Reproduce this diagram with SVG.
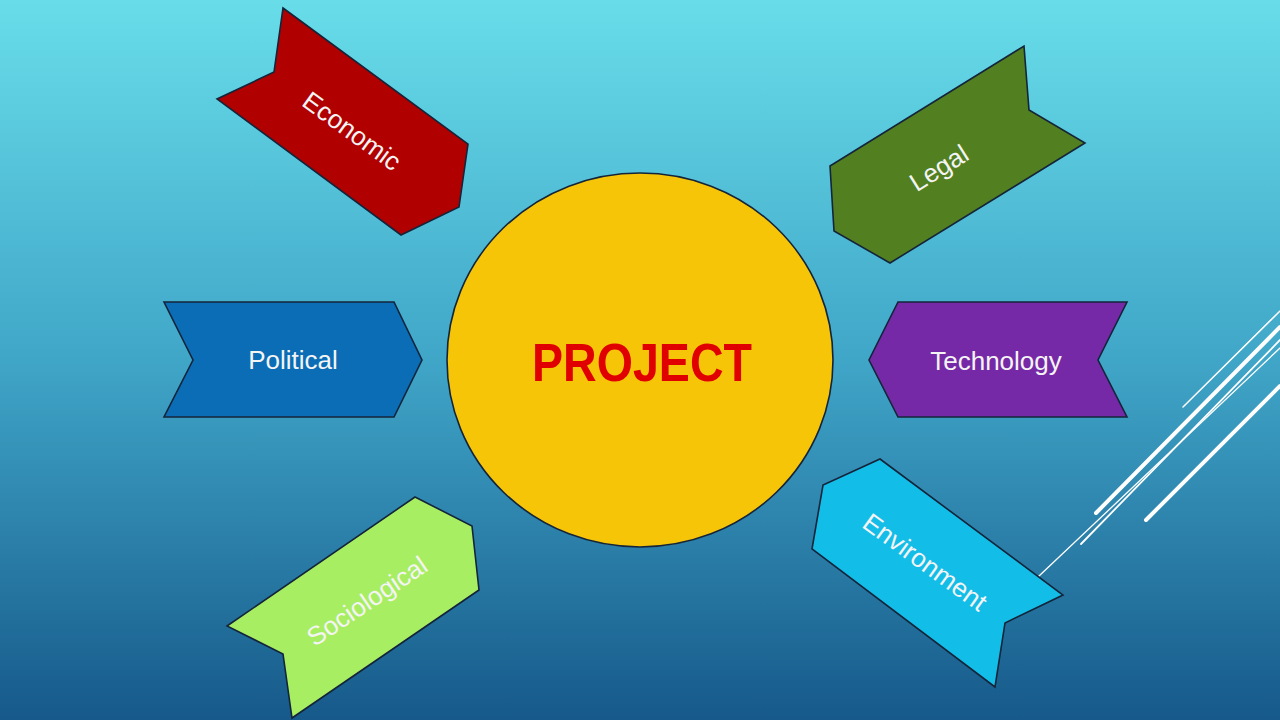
<svg xmlns="http://www.w3.org/2000/svg" width="1280" height="720" viewBox="0 0 1280 720">
  <defs>
    <linearGradient id="bg" x1="0" y1="0" x2="0" y2="1">
      <stop offset="0" stop-color="#68dde9"/>
      <stop offset="0.5" stop-color="#40a6c8"/>
      <stop offset="1" stop-color="#16598a"/>
    </linearGradient>
  </defs>
  <style>
    .shape { stroke: #14243a; stroke-width: 1.6; stroke-linejoin: miter; }
    .lbl { font-family: "Liberation Sans", Arial, sans-serif; font-size: 26px; fill: #f4f4f4; text-anchor: middle; }
    .deco { stroke: #ffffff; stroke-linecap: round; fill: none; }
  </style>
  <rect x="0" y="0" width="1280" height="720" fill="url(#bg)"/>

  <g id="decoration">
    <line class="deco" x1="1183" y1="407" x2="1280" y2="311" stroke-width="1.5"/>
    <line class="deco" x1="1096" y1="513" x2="1280" y2="327" stroke-width="4"/>
    <line class="deco" x1="1081" y1="544" x2="1280" y2="340" stroke-width="1.8"/>
    <line class="deco" x1="1039" y1="576" x2="1280" y2="348" stroke-width="1.3"/>
    <line class="deco" x1="1146" y1="520" x2="1280" y2="386" stroke-width="4"/>
  </g>

  <g id="connectors"></g>

  <g id="economic">
    <polygon class="shape" fill="#b00000" points="283,8 468,144 459,207 401,235 217,99 274,72"/>
    <text class="lbl" transform="translate(352,131) rotate(36)" y="9">Economic</text>
  </g>

  <g id="legal">
    <polygon class="shape" fill="#528020" points="830,166 1024,46 1029,110 1085,143 890,263 834,231"/>
    <text class="lbl" transform="translate(939,168) rotate(-32)" y="9">Legal</text>
  </g>

  <g id="political">
    <polygon class="shape" fill="#0b6db5" points="164,302 394,302 422,360 394,417 164,417 193,360"/>
    <text class="lbl" x="293" y="369">Political</text>
  </g>

  <g id="technology">
    <polygon class="shape" fill="#7629a6" points="898,302 1127,302 1098,360 1127,417 898,417 869,360"/>
    <text class="lbl" x="996" y="370">Technology</text>
  </g>

  <g id="sociological">
    <polygon class="shape" fill="#a8ee62" points="415,497 472,526 479,590 292,718 283,654 227,626"/>
    <text class="lbl" transform="translate(367,601) rotate(-34)" y="9" fill="#eefee0">Sociological</text>
  </g>

  <g id="environment">
    <polygon class="shape" fill="#12bde8" points="880,459 1063,595 1005,623 995,687 812,549 823,485"/>
    <text class="lbl" transform="translate(925,562) rotate(36)" y="9">Environment</text>
  </g>

  <g id="project">
    <ellipse class="shape" fill="#f6c508" cx="640" cy="360" rx="193" ry="187"/>
    <text x="642" y="381" font-family="Liberation Sans, Arial, sans-serif" font-weight="bold" font-size="54" fill="#e00000" text-anchor="middle" textLength="220" lengthAdjust="spacingAndGlyphs">PROJECT</text>
  </g>
</svg>
